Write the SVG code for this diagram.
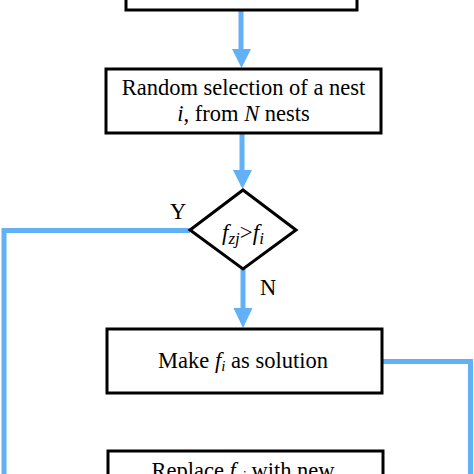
<svg xmlns="http://www.w3.org/2000/svg" width="474" height="474" viewBox="0 0 474 474">
<style>
.box{fill:#fff;stroke:#000;stroke-width:3}
.t{font-family:"Liberation Serif","Times New Roman",serif;font-size:22.5px;fill:#000;text-anchor:middle}
.it{font-style:italic}
.sub{font-size:15px;font-style:italic}
.dsub{font-size:17px;font-style:italic}
.line{fill:none;stroke:#62b0f5;stroke-width:5}
.head{fill:#62b0f5}
</style>
<rect width="474" height="474" fill="#fff"/>
<g id="connectors">
<line class="line" x1="241" y1="10" x2="241" y2="52"/>
<polygon class="head" points="232,49 251,49 241.5,68"/>
<line class="line" x1="242" y1="133" x2="242" y2="173"/>
<polygon class="head" points="233,170 252,170 242.5,189"/>
<line class="line" x1="243" y1="269" x2="243" y2="311"/>
<polygon class="head" points="233.5,308 252.5,308 243,328"/>
<polyline class="line" points="190,230.5 4,230.5 4,474"/>
<polyline class="line" points="382,361.5 470.5,361.5 470.5,474"/>
<text class="t" x="178" y="219">Y</text>
<text class="t" x="268" y="295">N</text>
</g>
<g id="start">
<rect class="box" x="126" y="-40" width="231" height="50"/>
</g>
<g id="select">
<rect class="box" x="106" y="69" width="275" height="64"/>
<text class="t" x="243.5" y="95">Random selection of a nest</text>
<text class="t" x="243.5" y="121"><tspan class="it">i</tspan>, from <tspan class="it">N</tspan> nests</text>
</g>
<g id="decision">
<polygon class="box" points="243,190 296,230 243,269 190,230"/>
<text class="t" x="243" y="240" style="font-size:23px"><tspan class="it">f</tspan><tspan class="dsub" dy="4">zj</tspan><tspan dy="-4">&gt;</tspan><tspan class="it">f</tspan><tspan class="dsub" dy="4">i</tspan></text>
</g>
<g id="solution">
<rect class="box" x="107" y="329" width="275" height="64"/>
<text class="t" x="243" y="368">Make <tspan class="it">f</tspan><tspan class="sub" dy="3">i</tspan><tspan dy="-3"> as solution</tspan></text>
</g>
<g id="replace">
<rect class="box" x="108" y="451" width="275" height="64"/>
<text class="t" x="243" y="478">Replace <tspan class="it">f</tspan><tspan class="sub" dy="3">zj</tspan><tspan dy="-3"> with new</tspan></text>
</g>
</svg>
